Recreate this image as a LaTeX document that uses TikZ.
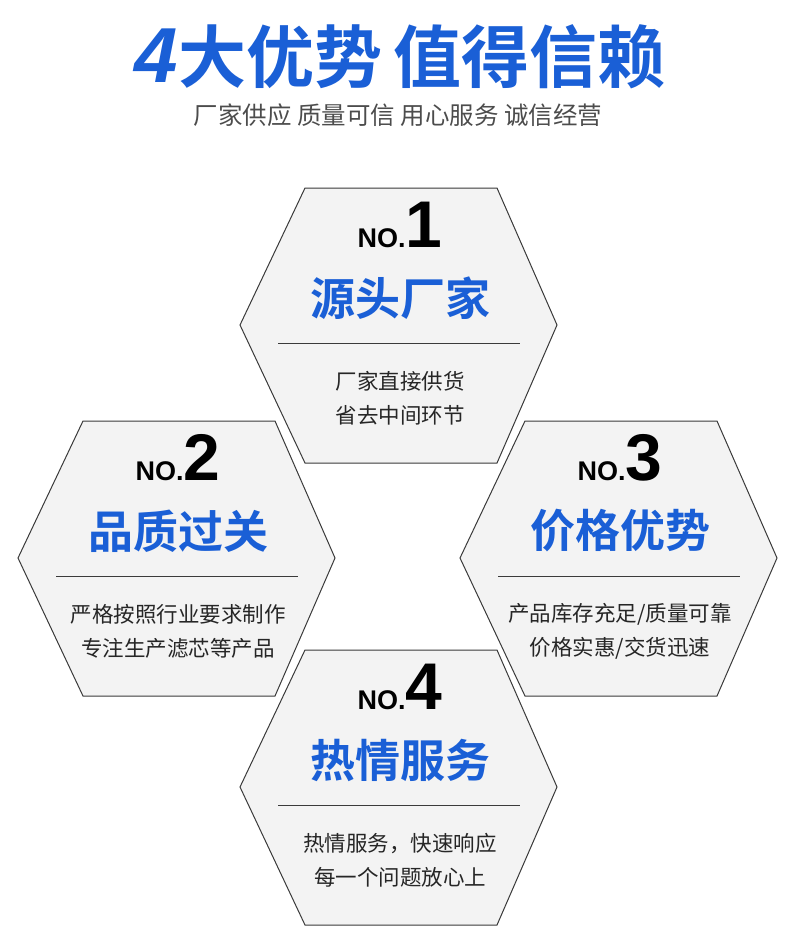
\documentclass[tikz,border=0pt]{standalone}
\usepackage{fontspec}
\newfontfamily\cjk{Noto Sans CJK SC}
\newfontfamily\cjkb{Noto Sans CJK SC Bold}
\newfontfamily\sansb{Liberation Sans Bold}
\definecolor{blu}{HTML}{1A5FD6}
\definecolor{hexfill}{HTML}{F3F3F3}
\definecolor{hexline}{HTML}{3A3A3A}
\tikzset{hexa/.style={fill=hexfill,draw=hexline,line width=1pt},
 sep/.style={draw=hexline,line width=0.8pt},
 num/.style={font=\sansb\fontsize{27}{27}\selectfont,anchor=base},
 head/.style={text=blu,font=\cjkb\fontsize{45}{45}\selectfont},
 body/.style={font=\cjk\fontsize{21.5}{34}\selectfont,align=center,text=black!85}}
\begin{document}
\begin{tikzpicture}[x=1pt,y=-1pt]
\useasboundingbox (0,0) rectangle (790,939);
\node[text=blu,font=\cjkb\fontsize{68}{68}\selectfont] (title) at (400,57) {{\sansb\itshape\fontsize{78}{78}\selectfont 4}大优势\,值得信赖};
\node[text=black!70,font=\cjk\fontsize{24.5}{24.5}\selectfont] (sub) at (398,115) {厂家供应 质量可信 用心服务 诚信经营};
\newcommand\hexat[6]{%
 \path[hexa] (#1-95,#2-137) -- (#1+97,#2-137) -- (#1+157,#2) -- (#1+97,#2+138) -- (#1-95,#2+138) -- (#1-160,#2) -- cycle;
 \draw[sep] (#1-122,#2+18) -- (#1+120,#2+18);
 \node[num] (n#3) at (#1,#2-78) {NO.{\fontsize{66}{66}\selectfont #3}};
 \node[head] (h#3) at (#1,#2-27) {#4};
 \node[body] (b#3) at (#1,#2+73) {#5\\#6};}
\hexat{400}{325}{1}{源头厂家}{厂家直接供货}{省去中间环节}
\hexat{178}{558}{2}{品质过关}{严格按照行业要求制作}{专注生产滤芯等产品}
\hexat{620}{558}{3}{价格优势}{产品库存充足/质量可靠}{价格实惠/交货迅速}
\hexat{400}{787}{4}{热情服务}{热情服务，快速响应}{每一个问题放心上}
\end{tikzpicture}
\end{document}
